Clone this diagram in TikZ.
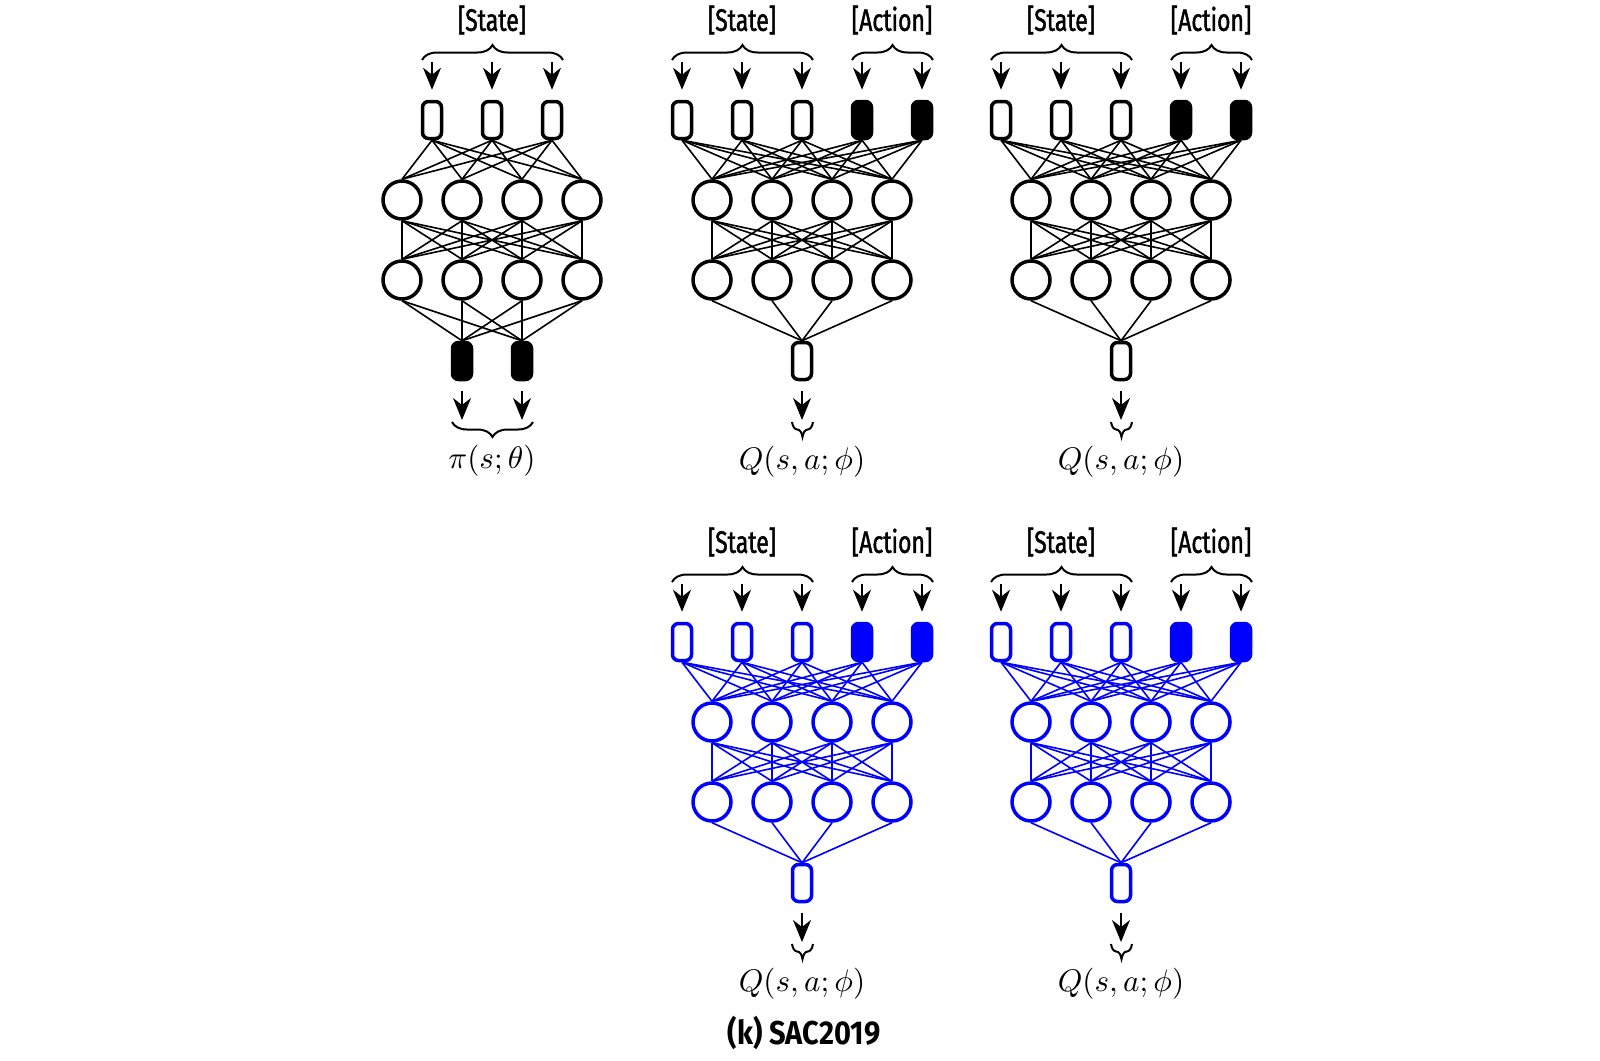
\documentclass[tikz,border=0pt]{standalone}
\usepackage{graphicx}
\usepackage{fontspec}
\newfontfamily\lblfont[FakeStretch=0.74,FakeBold=1.4]{Fira Sans}
\newfontfamily\ttlfont[FakeStretch=0.88]{Fira Sans}
\usetikzlibrary{arrows.meta,decorations.pathreplacing}
\tikzset{
  unit/.style={rectangle, draw, line width=3.5pt, rounded corners=6pt,
    minimum width=19pt, minimum height=37pt, inner sep=0pt},
  neuron/.style={circle, draw, line width=3.5pt, minimum size=38pt, inner sep=0pt},
  conn/.style={line width=1.6pt},
  inarrow/.style={line width=2pt, -{Stealth[length=22pt,width=18pt,inset=7pt]}},
  brc/.style={decorate, decoration={brace, amplitude=15pt}, line width=2pt},
  lbl/.style={font=\lblfont\fontsize{31}{34}\selectfont, inner sep=0pt},
  mlbl/.style={inner sep=0pt},
}
\newcommand\bigmath[1]{\scalebox{3.12}{$#1$}}
% Q network: #1 name, #2 centre x, #3 y offset, #4 colour
\newcommand\qnet[4]{%
\begin{scope}[shift={(#2,#3)}]
  \foreach \i/\xx in {1/-120,2/-60,3/0}{
    \node[unit,draw=#4] (#1-s\i) at (\xx,120) {};
    \coordinate (#1-ts\i) at (\xx,62);
    \draw[inarrow] (#1-ts\i) -- ([yshift=10pt]#1-s\i.north);
  }
  \foreach \i/\xx in {1/60,2/120}{
    \node[unit,draw=#4,fill=#4] (#1-a\i) at (\xx,120) {};
    \coordinate (#1-ta\i) at (\xx,62);
    \draw[inarrow] (#1-ta\i) -- ([yshift=10pt]#1-a\i.north);
  }
  \foreach \j/\xx in {1/-90,2/-30,3/30,4/90}{
    \node[neuron,draw=#4] (#1-h\j) at (\xx,200) {};
    \node[neuron,draw=#4] (#1-g\j) at (\xx,280) {};
  }
  \node[unit,draw=#4] (#1-o) at (0,361) {};
  \foreach \i in {s1,s2,s3,a1,a2}{
    \foreach \j in {1,...,4}{
      \draw[conn,#4] (#1-\i.south) -- (#1-h\j.north);
    }
  }
  \foreach \i in {1,...,4}{
    \foreach \j in {1,...,4}{
      \draw[conn,#4] (#1-h\i.south) -- (#1-g\j.north);
    }
    \draw[conn,#4] (#1-g\i.south) -- (#1-o.north);
  }
  \coordinate (#1-oe) at (0,420);
  \draw[inarrow] ([yshift=-10pt]#1-o.south) -- (#1-oe);
  \coordinate (#1-bsl) at (-130,60);
  \coordinate (#1-bsr) at (11,60);
  \coordinate (#1-bal) at (50,60);
  \coordinate (#1-bar) at (131,60);
  \draw[brc] (#1-bsl) -- (#1-bsr);
  \draw[brc] (#1-bal) -- (#1-bar);
  \node[lbl] (#1-ls) at (-60,20) {[State]};
  \node[lbl] (#1-la) at (90,20) {[Action]};
  \coordinate (#1-bol) at (-10,422);
  \coordinate (#1-bor) at (11,422);
  \draw[brc] (#1-bor) -- (#1-bol);
  \node[mlbl] (#1-q) at (0,462) {\bigmath{Q(s,a;\phi)}};
\end{scope}}
\begin{document}
\begin{tikzpicture}[x=1pt,y=-1pt]
\useasboundingbox (0,0) rectangle (1600,1060);
% policy network
\begin{scope}[shift={(492,0)}]
  \foreach \i/\xx in {1/-60,2/0,3/60}{
    \node[unit] (p-s\i) at (\xx,120) {};
    \coordinate (p-ts\i) at (\xx,62);
    \draw[inarrow] (p-ts\i) -- ([yshift=10pt]p-s\i.north);
  }
  \foreach \j/\xx in {1/-90,2/-30,3/30,4/90}{
    \node[neuron] (p-h\j) at (\xx,200) {};
    \node[neuron] (p-g\j) at (\xx,280) {};
  }
  \foreach \k/\xx in {1/-30,2/30}{
    \node[unit,fill=black] (p-o\k) at (\xx,361) {};
    \coordinate (p-oe\k) at (\xx,420);
    \draw[inarrow] ([yshift=-10pt]p-o\k.south) -- (p-oe\k);
  }
  \foreach \i in {1,2,3}{
    \foreach \j in {1,...,4}{
      \draw[conn] (p-s\i.south) -- (p-h\j.north);
    }
  }
  \foreach \i in {1,...,4}{
    \foreach \j in {1,...,4}{
      \draw[conn] (p-h\i.south) -- (p-g\j.north);
    }
    \foreach \k in {1,2}{
      \draw[conn] (p-g\i.south) -- (p-o\k.north);
    }
  }
  \coordinate (p-bsl) at (-70,60);
  \coordinate (p-bsr) at (71,60);
  \draw[brc] (p-bsl) -- (p-bsr);
  \node[lbl] (p-ls) at (0,20) {[State]};
  \coordinate (p-bol) at (-40,422);
  \coordinate (p-bor) at (41,422);
  \draw[brc] (p-bor) -- (p-bol);
  \node[mlbl] (p-pi) at (0,461) {\bigmath{\pi(s;\theta)}};
\end{scope}
\qnet{qa}{802}{0}{black}
\qnet{qb}{1121}{0}{black}
\qnet{qc}{802}{522}{blue}
\qnet{qd}{1121}{522}{blue}
\node[font=\ttlfont\bfseries\fontsize{33}{36}\selectfont, inner sep=0pt] (title) at (804,1033) {(k) SAC2019};
\end{tikzpicture}
\end{document}
